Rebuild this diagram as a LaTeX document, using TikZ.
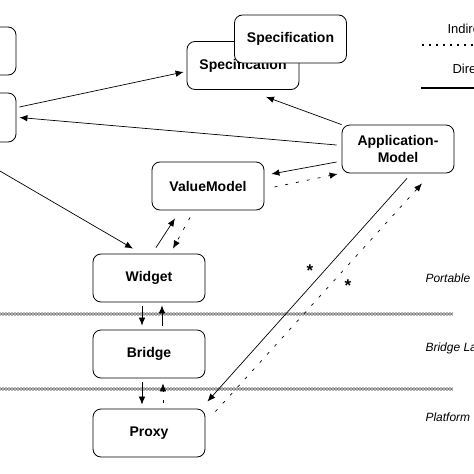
\documentclass[tikz,border=0pt]{standalone}
\usepackage{fontspec}
\setmainfont{Liberation Sans}
\usetikzlibrary{shapes,arrows,arrows.meta}
\tikzstyle{block} = [draw, fill=white, rectangle, rounded corners=8pt,
    line width=0.8pt, minimum height=48pt, minimum width=112pt,
    align=center, font=\fontsize{14}{17}\selectfont\bfseries]
\tikzstyle{layername} = [anchor=west, font=\fontsize{12}{14}\selectfont\itshape]
\tikzstyle{keytext} = [anchor=west, font=\fontsize{13}{15}\selectfont]
\tikzstyle{direct} = [->, line width=0.7pt]
\tikzstyle{indirect} = [->, line width=0.7pt, dash pattern=on 3pt off 8pt]
\tikzstyle{starmark} = [font=\fontsize{17}{17}\selectfont\bfseries]

\begin{document}
\begin{tikzpicture}[auto, x=1pt, y=1pt, node distance=76pt,
    >={Latex[length=8pt,width=6.5pt]}]
    \clip (0,0) rectangle (474,-474);
    % The blocks, the two at the left run out of the picture
    \node [block] (lefttop) at (-40,-51) {};
    \node [block, minimum height=49pt] (leftmid) at (-40,-117.5) {};
    \node [block] (specback) at (243,-65.5) {Specification};
    \node [block] (spec) at (290.5,-39) {Specification};
    \node [block] (appmodel) at (398,-149) {Application-\\Model};
    \node [block] (valuemodel) at (208,-186) {ValueModel};
    \node [block] (widget) at (149,-278) {Widget};
    \node [block, below of=widget] (bridge) {Bridge};
    \node [block, below of=bridge, node distance=79pt] (proxy) {Proxy};
    \coordinate (offleft) at (-20,-159.4);

    % The layer boundaries
    \foreach \x in {0,3,...,450} {
        \draw [gray!70!black, line width=0.5pt] (\x,-312.5) -- ++(3,-3)
            (\x,-315.5) -- ++(3,3);
        \draw [gray!70!black, line width=0.5pt] (\x,-387.5) -- ++(3,-3)
            (\x,-390.5) -- ++(3,3);
    }
    \node [layername] (portable) at (422,-278) {Portable};
    \node [layername] (bridgelayer) at (422,-348) {Bridge Layer};
    \node [layername] (platform) at (422,-417) {Platform};

    % The key
    \node [keytext] (indirkey) at (444,-29) {Indirect};
    \node [keytext] (dirkey) at (449,-69) {Direct};
    \coordinate (dotA) at (422,-45);
    \coordinate (dotB) at (480,-45);
    \coordinate (lineA) at (421,-88);
    \coordinate (lineB) at (480,-88);
    \draw [line width=1.6pt, dash pattern=on 1.6pt off 5.4pt] (dotA) -- (dotB);
    \draw [line width=2.4pt] (lineA) -- (lineB);

    % The direct references
    \draw [direct] ([xshift=3pt,yshift=10.5pt]leftmid.east)
        -- ([xshift=-3pt,yshift=-6.5pt]specback.west);
    \draw [direct] ([xshift=-5pt,yshift=4pt]appmodel.west)
        -- ([xshift=3pt]leftmid.east);
    \draw [direct] (appmodel.north west)
        -- ([xshift=23pt,yshift=-7pt]specback.south);
    \draw [direct] ([xshift=-5pt,yshift=-13pt]appmodel.west)
        -- ([xshift=7pt,yshift=12pt]valuemodel.east);
    \draw [direct] (offleft) -- ([xshift=-16pt,yshift=5pt]widget.north);
    \draw [direct] ([xshift=7pt,yshift=6pt]widget.north)
        -- ([xshift=-33pt,yshift=-8pt]valuemodel.south);
    \draw [direct] ([xshift=-7pt,yshift=-4pt]widget.south)
        -- ([xshift=-7pt,yshift=4pt]bridge.north);
    \draw [direct] ([xshift=13pt,yshift=4pt]bridge.north)
        -- ([xshift=13pt,yshift=-3pt]widget.south);
    \draw [direct] ([xshift=-7pt,yshift=-4pt]bridge.south)
        -- ([xshift=-7pt,yshift=4pt]proxy.north);
    \draw [direct] ([xshift=9pt,yshift=-5pt]appmodel.south)
        -- ([xshift=2pt,yshift=7pt]proxy.north east);

    % The indirect references
    \draw [indirect] ([xshift=10pt,yshift=-1pt]valuemodel.east)
        -- ([xshift=-4pt,yshift=-25pt]appmodel.west);
    \draw [indirect] ([xshift=-18pt,yshift=-7pt]valuemodel.south)
        -- ([xshift=24pt,yshift=5pt]widget.north);
    \draw [indirect] ([xshift=14pt,yshift=6pt]proxy.north)
        -- ([xshift=14pt,yshift=-5pt]bridge.south);
    \draw [indirect] ([xshift=10pt,yshift=-3pt]proxy.north east)
        -- ([xshift=24pt,yshift=-10pt]appmodel.south);
    \node [starmark] (starA) at (310,-271) {*};
    \node [starmark] (starB) at (348,-286) {*};
\end{tikzpicture}
\end{document}
